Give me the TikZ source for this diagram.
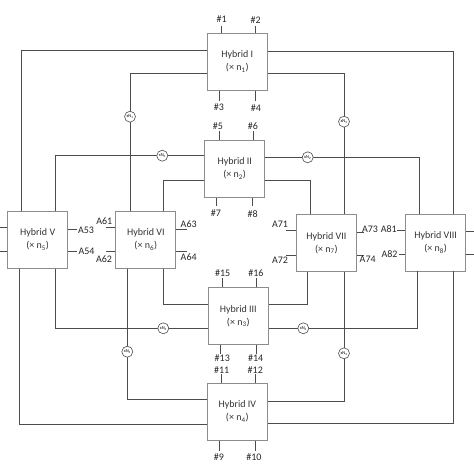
\documentclass[tikz,border=0pt]{standalone}
\usepackage{fontspec}
\setmainfont{Carlito}
\begin{document}
\begin{tikzpicture}[x=1pt,y=-1pt,
  hyb/.style={draw=black!45, line width=0.8pt, minimum width=60pt, minimum height=57pt, align=center, inner sep=0pt, font=\fontsize{10}{13}\selectfont, text=black!80},
  wire/.style={draw=black!70, line width=0.7pt},
  lab/.style={font=\fontsize{10}{12}\selectfont, text=black!85, inner sep=0pt},
  mult/.style={circle, draw=black!70, fill=white, line width=0.6pt, minimum size=11pt, inner sep=0pt, font=\fontsize{4.5}{5}\selectfont}]
\useasboundingbox (0,0) rectangle (474,474);
% boxes
\node[hyb] (h1) at (237.3,61.7) {Hybrid I\\(× n\textsubscript{1})};
\node[hyb] (h2) at (234.7,168.7) {Hybrid II\\(× n\textsubscript{2})};
\node[hyb] (h3) at (238.3,316.2) {Hybrid III\\(× n\textsubscript{3})};
\node[hyb] (h4) at (237.3,411.7) {Hybrid IV\\(× n\textsubscript{4})};
\node[hyb] (h5) at (37.7,239.7) {Hybrid V\\(× n\textsubscript{5})};
\node[hyb] (h6) at (145.8,239.7) {Hybrid VI\\(× n\textsubscript{6})};
\node[hyb] (h7) at (326.3,243) {Hybrid VII\\(× n\textsubscript{7})};
\node[hyb] (h8) at (435.7,242.5) {Hybrid VIII\\(× n\textsubscript{8})};
% connectors
\draw[wire] (h1.west |- 0,50) -| (h5.north -| 21.5,0);
\draw[wire] (h1.east |- 0,51.7) -| (h8.north -| 453.7,0);
\draw[wire] (h1.west |- 0,73.3) -| (h6.north -| 130,0);
\draw[wire] (h1.east |- 0,73.3) -| (h7.north -| 344,0);
\draw[wire] (h2.west |- 0,155.7) -| (h5.north -| 55,0);
\draw[wire] (h2.east |- 0,157.3) -| (h8.north -| 419.3,0);
\draw[wire] (h2.west |- 0,180.7) -| (h6.north -| 163.3,0);
\draw[wire] (h2.east |- 0,180) -| (h7.north -| 310.7,0);
\draw[wire] (h6.south -| 163.3,0) |- (h3.west |- 0,304);
\draw[wire] (h7.south -| 307.3,0) |- (h3.east |- 0,304.5);
\draw[wire] (h5.south -| 55,0) |- (h3.west |- 0,328.3);
\draw[wire] (h8.south -| 417.7,0) |- (h3.east |- 0,328.3);
\draw[wire] (h6.south -| 127.3,0) |- (h4.west |- 0,399.3);
\draw[wire] (h7.south -| 344,0) |- (h4.east |- 0,401.7);
\draw[wire] (h5.south -| 19.5,0) |- (h4.west |- 0,424);
\draw[wire] (h8.south -| 453.7,0) |- (h4.east |- 0,423.3);
% multiplicity circles
\node[mult] (c1) at (130,116.7) {xN\textsubscript{1}};
\node[mult] (c2) at (344,121.7) {xN\textsubscript{3}};
\node[mult] (c3) at (162.3,155.7) {xN\textsubscript{2}};
\node[mult] (c4) at (307.7,157.3) {xN\textsubscript{2}};
\node[mult] (c5) at (163.3,328.3) {xN\textsubscript{4}};
\node[mult] (c6) at (303.3,328.3) {xN\textsubscript{4}};
\node[mult] (c7) at (127.3,351.7) {xN\textsubscript{3}};
\node[mult] (c8) at (344,353.3) {xN\textsubscript{3}};
% vertical stubs
\draw[wire] (h1.north -| 221.7,0) -- ++(0,-7);
\draw[wire] (h1.north -| 255.7,0) -- ++(0,-7);
\draw[wire] (h1.south -| 219,0) -- ++(0,10);
\draw[wire] (h1.south -| 255.7,0) -- ++(0,10);
\draw[wire] (h2.north -| 219,0) -- ++(0,-8.5);
\draw[wire] (h2.north -| 253,0) -- ++(0,-8.5);
\draw[wire] (h2.south -| 216.7,0) -- ++(0,8.5);
\draw[wire] (h2.south -| 252.7,0) -- ++(0,8.5);
\draw[wire] (h3.north -| 222.7,0) -- ++(0,-9);
\draw[wire] (h3.north -| 256,0) -- ++(0,-9);
\draw[wire] (h3.south -| 220,0) -- ++(0,8.5);
\draw[wire] (h3.south -| 256,0) -- ++(0,8.5);
\draw[wire] (h4.north -| 221.7,0) -- ++(0,-9);
\draw[wire] (h4.north -| 255.3,0) -- ++(0,-9);
\draw[wire] (h4.south -| 219,0) -- ++(0,10);
\draw[wire] (h4.south -| 255,0) -- ++(0,10);
% horizontal stubs
\draw[wire] (h5.west |- 0,227.3) -- ++(-8,0);
\draw[wire] (h5.west |- 0,251.7) -- ++(-8,0);
\draw[wire] (h5.east |- 0,229.3) -- ++(9,0);
\draw[wire] (h5.east |- 0,251) -- ++(9,0);
\draw[wire] (h6.west |- 0,227.3) -- ++(-9.3,0);
\draw[wire] (h6.west |- 0,251) -- ++(-9.3,0);
\draw[wire] (h6.east |- 0,229.3) -- ++(11,0);
\draw[wire] (h6.east |- 0,251) -- ++(11,0);
\draw[wire] (h7.west |- 0,230.7) -- ++(-9.6,0);
\draw[wire] (h7.west |- 0,255) -- ++(-9.6,0);
\draw[wire] (h7.east |- 0,232.7) -- ++(7,0);
\draw[wire] (h7.east |- 0,255) -- ++(7,0);
\draw[wire] (h8.west |- 0,230) -- ++(-8.5,0);
\draw[wire] (h8.west |- 0,254.3) -- ++(-6,0);
\draw[wire] (h8.east |- 0,231) -- ++(8,0);
\draw[wire] (h8.east |- 0,254.3) -- ++(8,0);
% port labels
\node[lab] (p1) at (221.7,19.3) {\#1};
\node[lab] (p2) at (255.7,19.8) {\#2};
\node[lab] (p3) at (219,107) {\#3};
\node[lab] (p4) at (256,108) {\#4};
\node[lab] (p5) at (218,126) {\#5};
\node[lab] (p6) at (253,126) {\#6};
\node[lab] (p7) at (216,213.3) {\#7};
\node[lab] (p8) at (252.7,214) {\#8};
\node[lab] (p15) at (222.7,272.7) {\#15};
\node[lab] (p16) at (256,272.7) {\#16};
\node[lab] (p13) at (222.3,357.7) {\#13};
\node[lab] (p14) at (255.7,357.7) {\#14};
\node[lab] (p11) at (221.7,370.3) {\#11};
\node[lab] (p12) at (255.3,370.3) {\#12};
\node[lab] (p9) at (219,456.7) {\#9};
\node[lab] (p10) at (254,456.7) {\#10};
\node[lab] (a53) at (86,230) {A53};
\node[lab] (a54) at (86.5,251.7) {A54};
\node[lab] (a61) at (104.3,221) {A61};
\node[lab] (a62) at (104,259.3) {A62};
\node[lab] (a63) at (188.7,224) {A63};
\node[lab] (a64) at (188.7,257.3) {A64};
\node[lab] (a71) at (280,224) {A71};
\node[lab] (a72) at (280,260.7) {A72};
\node[lab] (a73) at (370,229) {A73};
\node[lab] (a74) at (367.7,259) {A74};
\node[lab] (a81) at (388.8,229) {A81};
\node[lab] (a82) at (389.5,254.3) {A82};
\end{tikzpicture}
\end{document}
